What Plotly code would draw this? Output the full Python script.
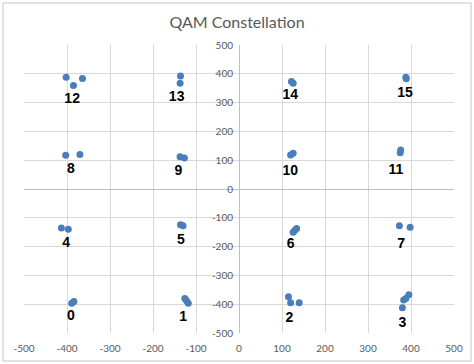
import plotly.graph_objects as go

# Received symbol samples (I/Q)
sample_x = [-402, -364, -385, -136, -137, 122, 126, 388, 389,
            -403, -370, -137, -127, 120, 126, 376, 375,
            -413, -397, -136, -130, 126, 130, 134, 373, 398,
            -389, -384, -126, -122, -118, 115, 120, 140, 380, 383, 388, 395]
sample_y = [388, 384, 359, 392, 367, 373, 367, 388, 383,
            117, 120, 112, 108, 118, 124, 135, 126,
            -135, -140, -124, -128, -150, -143, -137, -128, -133,
            -397, -391, -380, -388, -397, -374, -395, -395, -412, -385, -380, -367]

# Symbol labels and their positions
label_text = ["12", "13", "14", "15", "8", "9", "10", "11",
              "4", "5", "6", "7", "0", "1", "2", "3"]
label_x = [-388, -145, 119, 386, -391, -141, 119, 365,
           -402, -135, 120, 377, -391, -130, 117, 380]
label_y = [312, 318, 323, 332, 68, 62, 60, 64,
           -189, -180, -194, -192, -441, -447, -449, -466]

tick_vals = [-500, -400, -300, -200, -100, 0, 100, 200, 300, 400, 500]
tick_text = [str(v) for v in tick_vals]

fig = go.Figure()
fig.add_trace(go.Scatter(
    x=sample_x, y=sample_y, mode="markers",
    marker=dict(color="#4A7EBB", size=7),
    hoverinfo="x+y", showlegend=False))
fig.add_trace(go.Scatter(
    x=label_x, y=label_y, mode="text", text=label_text,
    textposition="middle center",
    textfont=dict(family="Liberation Sans", size=14, color="#000000", weight="bold"),
    hoverinfo="skip", showlegend=False))

grid = "#D9D9D9"
fig.update_layout(
    width=474, height=364,
    margin=dict(l=24, r=20, t=45, b=31, autoexpand=False),
    paper_bgcolor="white", plot_bgcolor="white",
    title=dict(text="QAM Constellation", x=0.5, xanchor="center", y=1 - 22 / 364,
               yanchor="middle",
               font=dict(family="Lato", size=16, color="#595959")),
    font=dict(family="Lato", size=10, color="#595959"),
    xaxis=dict(range=[-500, 500], tickvals=tick_vals, ticktext=tick_text,
               showgrid=True, gridcolor=grid, gridwidth=1,
               zeroline=False, showline=False, ticks="",
               tickfont=dict(size=10, color="#595959"),
               ticklabelstandoff=8, fixedrange=True, automargin=False),
    yaxis=dict(range=[-500, 500], tickvals=tick_vals, ticktext=tick_text,
               showgrid=True, gridcolor=grid, gridwidth=1,
               zeroline=True, zerolinecolor="#BFBFBF", zerolinewidth=1,
               showline=True, linecolor="#BFBFBF", linewidth=1,
               anchor="free", position=0.5, ticks="",
               tickfont=dict(size=10, color="#595959"),
               ticklabelstandoff=4, fixedrange=True, automargin=False),
    shapes=[dict(type="rect", xref="paper", yref="paper",
                 x0=-21 / 430, x1=1 + 17 / 430, y0=-28 / 288, y1=1 + 42 / 288,
                 line=dict(color="#D9D9D9", width=1.5), fillcolor="rgba(0,0,0,0)",
                 layer="below")],
)

fig.write_html("out.html", config={"displayModeBar": False},
               post_script="document.body.style.margin='0';document.body.style.overflow='hidden';")
